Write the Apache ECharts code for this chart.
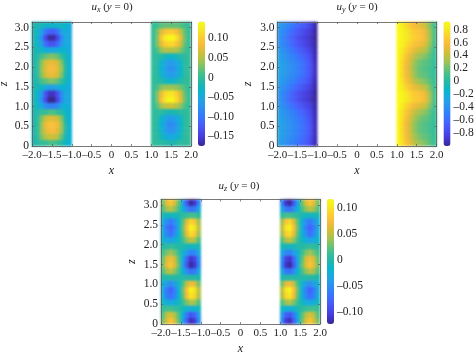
<!DOCTYPE html>
<html><head><meta charset="utf-8">
<style>html,body{margin:0;padding:0;background:#fff}#c{width:474px;height:354px}
#c canvas[data-zr-dom-id="zr_0"]{filter:blur(.9px)}
#c canvas[data-zr-dom-id="zr_1"]{filter:blur(.35px)}</style>
<script src="https://cdn.jsdelivr.net/npm/echarts@6/dist/echarts.min.js"></script>
</head><body><div id="c"></div>
<script>
const xCats=[-1.95,-1.85,-1.75,-1.65,-1.55,-1.45,-1.35,-1.25,-1.15,-1.05,-0.95,-0.85,-0.75,-0.65,-0.55,-0.45,-0.35,-0.25,-0.15,-0.05,0.05,0.15,0.25,0.35,0.45,0.55,0.65,0.75,0.85,0.95,1.05,1.15,1.25,1.35,1.45,1.55,1.65,1.75,1.85,1.95];
const zCats=[0.08,0.24,0.39,0.55,0.71,0.86,1.02,1.18,1.34,1.49,1.65,1.81,1.96,2.12,2.28,2.44,2.59,2.75,2.91,3.06];
const xTicks=[-2,-1.5,-1,-0.5,0,0.5,1,1.5,2];
const zTicks=[0,0.5,1,1.5,2,2.5,3];
const uxTicks=[-0.15,-0.1,-0.05,0,0.05,0.1];
const uyTicks=[-0.8,-0.6,-0.4,-0.2,0,0.2,0.4,0.6,0.8];
const uzTicks=[-0.1,-0.05,0,0.05,0.1];
const uxRange=[-0.175,0.143], uyRange=[-1,0.925], uzRange=[-0.123,0.117];

const uxLeft=[
[-.02,-.01,0,0,.01,.01,0,-.01,-.03,-.04],
[-.02,0,.03,.05,.06,.06,.05,.02,-.02,-.04],
[-.02,0,.04,.07,.085,.085,.07,.04,-.01,-.04],
[-.02,0,.04,.08,.09,.09,.08,.04,-.01,-.04],
[-.02,0,.03,.06,.07,.07,.06,.03,-.02,-.04],
[-.02,-.01,0,0,.01,.01,0,-.01,-.03,-.04],
[-.02,-.03,-.05,-.08,-.09,-.09,-.08,-.05,-.04,-.05],
[-.02,-.04,-.08,-.14,-.175,-.175,-.14,-.085,-.05,-.05],
[-.02,-.035,-.07,-.13,-.16,-.16,-.13,-.08,-.05,-.05],
[-.02,-.02,-.03,-.05,-.06,-.06,-.05,-.04,-.04,-.05],
[-.02,-.01,.01,.02,.03,.03,.02,0,-.02,-.04],
[-.02,0,.035,.065,.075,.075,.065,.03,-.015,-.04],
[-.02,0,.04,.07,.085,.085,.07,.04,-.01,-.04],
[-.02,0,.035,.065,.075,.075,.065,.03,-.015,-.04],
[-.02,-.01,.01,.02,.03,.03,.02,0,-.02,-.04],
[-.02,-.02,-.03,-.045,-.05,-.05,-.045,-.035,-.04,-.05],
[-.02,-.03,-.06,-.11,-.13,-.13,-.11,-.07,-.05,-.05],
[-.02,-.04,-.08,-.14,-.17,-.17,-.14,-.085,-.05,-.05],
[-.02,-.03,-.06,-.1,-.12,-.12,-.1,-.06,-.045,-.05],
[-.02,-.02,-.02,-.03,-.03,-.03,-.03,-.025,-.035,-.05]];
const uxRight=[
[0,-.005,-.005,-.01,-.015,-.015,-.01,-.005,-.005,0],
[0,-.005,-.02,-.04,-.05,-.05,-.04,-.02,-.005,0],
[0,-.01,-.03,-.06,-.075,-.075,-.06,-.03,-.005,0],
[0,-.01,-.035,-.065,-.08,-.08,-.065,-.035,-.005,0],
[0,-.005,-.03,-.05,-.065,-.065,-.05,-.03,-.005,0],
[0,-.005,-.005,-.015,-.02,-.02,-.015,-.005,-.005,0],
[0,.015,.04,.055,.06,.06,.05,.035,.01,0],
[0,.03,.085,.12,.135,.135,.11,.07,.025,0],
[0,.03,.075,.11,.12,.12,.1,.065,.02,0],
[0,.01,.03,.04,.04,.04,.035,.025,.01,0],
[0,-.005,-.01,-.025,-.03,-.03,-.025,-.01,-.005,0],
[0,-.005,-.03,-.055,-.065,-.065,-.055,-.03,-.005,0],
[0,-.01,-.035,-.06,-.075,-.075,-.06,-.035,-.005,0],
[0,-.005,-.03,-.055,-.065,-.065,-.055,-.03,-.005,0],
[0,-.005,-.01,-.025,-.03,-.03,-.025,-.01,-.005,0],
[0,.01,.035,.05,.05,.05,.045,.03,.01,0],
[0,.03,.07,.1,.11,.11,.09,.06,.02,0],
[0,.03,.09,.125,.14,.14,.115,.075,.025,0],
[0,.025,.065,.09,.1,.1,.085,.055,.02,0],
[0,.005,.015,.02,.02,.02,.02,.015,.005,0]];
const uyLeft=[
[-.31,-.37,-.42,-.48,-.53,-.58,-.64,-.7,-.79,-.94],
[-.29,-.35,-.39,-.44,-.49,-.55,-.6,-.67,-.77,-.93],
[-.28,-.33,-.37,-.42,-.47,-.52,-.58,-.65,-.75,-.92],
[-.28,-.33,-.37,-.42,-.47,-.52,-.58,-.65,-.75,-.92],
[-.29,-.35,-.39,-.44,-.49,-.55,-.6,-.67,-.77,-.93],
[-.32,-.38,-.43,-.49,-.54,-.6,-.65,-.71,-.8,-.94],
[-.36,-.43,-.49,-.56,-.63,-.68,-.74,-.79,-.85,-.96],
[-.4,-.48,-.56,-.64,-.71,-.77,-.82,-.86,-.91,-.98],
[-.39,-.47,-.55,-.63,-.7,-.76,-.81,-.85,-.9,-.98],
[-.35,-.42,-.48,-.55,-.61,-.67,-.72,-.78,-.85,-.96],
[-.31,-.37,-.42,-.48,-.53,-.58,-.64,-.7,-.79,-.94],
[-.29,-.34,-.38,-.43,-.48,-.53,-.59,-.66,-.76,-.92],
[-.28,-.33,-.37,-.42,-.47,-.52,-.58,-.65,-.75,-.92],
[-.29,-.34,-.38,-.43,-.48,-.53,-.59,-.66,-.76,-.92],
[-.31,-.37,-.42,-.48,-.53,-.58,-.64,-.7,-.79,-.94],
[-.35,-.41,-.47,-.54,-.6,-.66,-.71,-.77,-.84,-.95],
[-.38,-.46,-.53,-.61,-.67,-.73,-.78,-.83,-.89,-.97],
[-.4,-.48,-.56,-.64,-.71,-.77,-.82,-.86,-.91,-.98],
[-.38,-.45,-.52,-.6,-.66,-.72,-.77,-.82,-.88,-.97],
[-.33,-.4,-.46,-.52,-.58,-.63,-.69,-.74,-.82,-.95]];
const uyRight=[
[.89,.76,.61,.5,.38,.31,.27,.22,.15,.08],
[.88,.74,.58,.45,.32,.25,.2,.17,.12,.07],
[.88,.72,.55,.42,.28,.2,.16,.13,.1,.06],
[.88,.72,.55,.42,.28,.2,.16,.13,.1,.06],
[.88,.74,.58,.45,.32,.25,.2,.17,.12,.07],
[.89,.77,.63,.52,.4,.34,.29,.24,.16,.08],
[.91,.82,.71,.63,.54,.49,.45,.37,.23,.1],
[.92,.87,.8,.74,.68,.65,.6,.5,.3,.12],
[.92,.86,.79,.72,.66,.63,.58,.48,.29,.12],
[.9,.81,.7,.61,.52,.47,.42,.35,.22,.1],
[.89,.76,.61,.5,.38,.31,.27,.22,.15,.08],
[.88,.73,.56,.44,.3,.22,.18,.15,.11,.06],
[.88,.72,.55,.42,.28,.2,.16,.13,.1,.06],
[.88,.73,.56,.44,.3,.22,.18,.15,.11,.06],
[.89,.76,.61,.5,.38,.31,.27,.22,.15,.08],
[.9,.8,.69,.6,.5,.45,.4,.33,.21,.09],
[.91,.85,.76,.69,.62,.58,.53,.44,.27,.11],
[.92,.87,.8,.74,.68,.65,.6,.5,.3,.12],
[.92,.86,.79,.72,.66,.63,.58,.48,.29,.12],
[.91,.83,.73,.64,.56,.52,.47,.39,.24,.1]];
const uzLeft=[
[.03,.06,.08,.06,.025,-.03,-.08,-.115,-.105,-.05],
[.02,.05,.06,.045,.02,-.02,-.065,-.09,-.08,-.04],
[.01,.015,.015,.01,.005,-.005,-.015,-.025,-.02,-.01],
[-.01,-.025,-.03,-.025,-.01,.01,.03,.045,.04,.02],
[-.025,-.06,-.07,-.055,-.02,.02,.07,.1,.09,.045],
[-.03,-.065,-.08,-.06,-.025,.025,.075,.11,.1,.05],
[-.02,-.04,-.05,-.04,-.015,.015,.05,.07,.065,.03],
[-.005,0,0,0,0,0,0,0,0,-.005],
[.02,.04,.05,.035,.015,-.02,-.05,-.07,-.065,-.03],
[.03,.065,.08,.06,.025,-.03,-.085,-.12,-.11,-.055],
[.025,.06,.07,.055,.02,-.025,-.075,-.11,-.1,-.05],
[.015,.03,.04,.03,.01,-.015,-.04,-.06,-.055,-.03],
[0,.005,.01,.005,0,0,-.01,-.01,-.01,-.005],
[-.015,-.03,-.035,-.025,-.01,.01,.035,.05,.045,.02],
[-.025,-.055,-.07,-.05,-.02,.02,.065,.095,.085,.04],
[-.03,-.065,-.08,-.06,-.025,.025,.075,.11,.1,.05],
[-.025,-.05,-.065,-.05,-.02,.02,.06,.09,.08,.04],
[-.005,-.01,-.01,-.01,-.005,.005,.01,.015,.015,.005],
[.02,.04,.05,.035,.015,-.02,-.05,-.07,-.065,-.03],
[.03,.065,.08,.06,.025,-.03,-.085,-.12,-.11,-.055]];
const uzRight=[
[-.05,-.105,-.115,-.08,-.03,.025,.06,.08,.06,.03],
[-.04,-.08,-.09,-.065,-.02,.02,.045,.06,.05,.02],
[-.01,-.02,-.025,-.015,-.005,.005,.01,.015,.015,.01],
[.02,.04,.045,.03,.01,-.01,-.025,-.03,-.025,-.01],
[.045,.09,.1,.07,.02,-.02,-.055,-.07,-.06,-.025],
[.05,.1,.11,.075,.025,-.025,-.06,-.08,-.065,-.03],
[.03,.065,.07,.05,.015,-.015,-.04,-.05,-.04,-.02],
[-.005,0,0,0,0,0,0,0,0,-.005],
[-.03,-.065,-.07,-.05,-.02,.015,.035,.05,.04,.02],
[-.055,-.11,-.12,-.085,-.03,.025,.06,.08,.065,.03],
[-.05,-.1,-.11,-.075,-.025,.02,.055,.07,.06,.025],
[-.03,-.055,-.06,-.04,-.015,.01,.03,.04,.03,.015],
[-.005,-.01,-.01,-.01,0,0,.005,.01,.005,0],
[.02,.045,.05,.035,.01,-.01,-.025,-.035,-.03,-.015],
[.04,.085,.095,.065,.02,-.02,-.05,-.07,-.055,-.025],
[.05,.1,.11,.075,.025,-.025,-.06,-.08,-.065,-.03],
[.04,.08,.09,.06,.02,-.02,-.05,-.065,-.05,-.025],
[.005,.015,.015,.01,.005,-.005,-.01,-.01,-.01,-.005],
[-.03,-.065,-.07,-.05,-.02,.015,.035,.05,.04,.02],
[-.055,-.11,-.12,-.085,-.03,.025,.06,.08,.065,.03]];

const parula=['#38288f','#4537d5','#484df0','#4563fd','#327cfc','#2b91ef','#20a5e3','#08b5d0','#1fb6ad','#38bf95','#6cc272','#a8c350','#d1bf35','#f8ba3d','#fcce2e','#f5e924','#f9fb15'];
const font='"Liberation Serif","Times New Roman",serif', ink='#222', frame='#555';
const fmt=v=>{if(v===0)return '0';const s=Math.abs(v).toFixed(1);return (v<0?'\u2013':'')+s;};
const fmt2=v=>{if(v===0)return '0';return (v<0?'\u2013':'')+Math.abs(v).toFixed(2);};
const panels=[
 {sub:'x',left:uxLeft,right:uxRight,range:uxRange,ticks:uxTicks,f:fmt2,gx:32,gy:22,gh:124,tx:112,ty:1,zx:3},
 {sub:'y',left:uyLeft,right:uyRight,range:uyRange,ticks:uyTicks,f:fmt,gx:277.5,gy:22,gh:124,tx:357,ty:1,zx:247},
 {sub:'z',left:uzLeft,right:uzRight,range:uzRange,ticks:uzTicks,f:fmt2,gx:161,gy:199.5,gh:124.5,tx:239,ty:180,zx:131}
];
const GW=159,CBX=7,CBW=7;
const grid=[],xAxis=[],yAxis=[],series=[],visualMap=[],title=[];
const lbl={fontFamily:font,fontSize:11.5,color:ink};
const rich={i:{fontFamily:font,fontSize:11,fontWeight:'normal',fontStyle:'italic',color:ink},n:{fontFamily:font,fontSize:11,fontWeight:'normal',color:ink},s:{fontFamily:font,fontSize:8,fontWeight:'normal',fontStyle:'italic',color:ink,padding:[5,0,0,0]}};
const line={show:true,onZero:false,lineStyle:{color:frame,width:.8}};
const tick={show:true,inside:true,length:2,lineStyle:{color:frame,width:.7}};
panels.forEach((p,k)=>{
 const box={left:p.gx,top:p.gy,width:GW,height:p.gh,outerBoundsMode:'none'};
 const g0=grid.length;
 grid.push(box,Object.assign({},box),{left:p.gx+GW+CBX,top:p.gy-.5,width:CBW,height:p.gh+.5,outerBoundsMode:'none'});
 const ix=xAxis.length,iy=yAxis.length;
 xAxis.push({type:'category',gridIndex:g0,data:xCats,show:false},
  {type:'value',zlevel:1,gridIndex:g0+1,min:-2,max:2,interval:.5,position:'bottom',z:5,name:'x',nameLocation:'middle',nameGap:19,nameMoveOverlap:false,nameTextStyle:{fontFamily:font,fontSize:12,fontStyle:'italic',color:ink},
   axisLine:line,axisTick:tick,splitLine:{show:false},
   axisLabel:Object.assign({},lbl,{fontSize:11,margin:4,hideOverlap:false,customValues:xTicks,formatter:fmt})},
  {type:'value',zlevel:1,gridIndex:g0+1,min:-2,max:2,interval:.5,position:'top',z:5,axisLine:line,axisTick:tick,splitLine:{show:false},axisLabel:{show:false}},
  {type:'value',gridIndex:g0+2,min:0,max:1,show:false});
 yAxis.push({type:'category',gridIndex:g0,data:zCats,show:false},
  {type:'value',zlevel:1,gridIndex:g0+1,min:0,max:Math.PI,position:'left',z:5,name:'z',nameLocation:'middle',nameRotate:90,nameGap:p.gx-p.zx-6.5,nameMoveOverlap:false,nameTextStyle:{fontFamily:font,fontSize:12,fontStyle:'italic',color:ink},
   axisLine:line,axisTick:Object.assign({customValues:zTicks},tick),splitLine:{show:false},
   axisLabel:Object.assign({margin:3,customValues:zTicks,formatter:v=>v===0?'0':v.toFixed(1)},lbl)},
  {type:'value',zlevel:1,gridIndex:g0+1,min:0,max:Math.PI,position:'right',z:5,axisLine:line,axisTick:Object.assign({customValues:zTicks},tick),splitLine:{show:false},axisLabel:{show:false}},
  {type:'value',zlevel:1,gridIndex:g0+2,min:p.range[0],max:p.range[1],position:'right',axisLine:{show:false},axisTick:{show:false},splitLine:{show:false},
   axisLabel:Object.assign({margin:3,customValues:p.ticks,formatter:p.f},lbl)});
 const data=[];
 zCats.forEach((z,r)=>{for(let c=0;c<10;c++){data.push([c,r,p.left[r][c]]);data.push([30+c,r,p.right[r][c]]);}});
 series.push({type:'heatmap',zlevel:0,xAxisIndex:ix,yAxisIndex:iy,data,itemStyle:{borderWidth:0},emphasis:{disabled:true},progressive:0,animation:false});
 visualMap.push({type:'continuous',zlevel:1,seriesIndex:k,min:p.range[0],max:p.range[1],dimension:2,calculable:false,hoverLink:false,realtime:false,orient:'vertical',left:p.gx+GW+CBX,top:p.gy-.5,itemWidth:CBW,itemHeight:p.gh+.5,padding:0,text:null,showLabel:false,inRange:{color:parula}});
 title.push({zlevel:1,text:'{i|u}{s|'+p.sub+'}{n| (}{i|y}{n| = 0)}',left:p.tx,top:p.ty,textAlign:'center',padding:0,textStyle:{fontWeight:'normal',rich}});
});
const chart=echarts.init(document.getElementById('c'),null,{renderer:'canvas'});
chart.setOption({animation:false,backgroundColor:'#fff',title,grid,xAxis,yAxis,series,visualMap});
</script></body></html>
